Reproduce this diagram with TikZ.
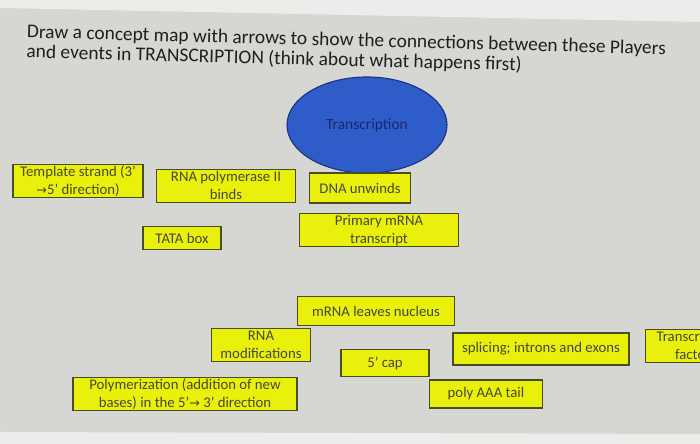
\documentclass[tikz,border=0pt]{standalone}
\usepackage{fontspec}
\setmainfont{Carlito}
\newfontfamily\arrowfont{DejaVu Sans}
\usepackage{tikz}
\usetikzlibrary{positioning, calc}
\usetikzlibrary{shapes}
\definecolor{screen}{RGB}{214,214,211}
\definecolor{screenhi}{RGB}{236,236,234}
\definecolor{boxfill}{RGB}{232,240,12}
\definecolor{boxedge}{RGB}{72,76,40}
\definecolor{boxtext}{RGB}{72,72,56}
\definecolor{ovalfill}{RGB}{46,92,200}
\definecolor{ovaledge}{RGB}{30,52,130}
\definecolor{ovaltext}{RGB}{26,40,112}
\newcommand{\rarr}{{\arrowfont\fontsize{9}{12}\selectfont →}}
\newcommand{\upst}{\rule{0pt}{8.5pt}}
\newcommand{\dnst}{\rule[-2.1pt]{0pt}{2.1pt}}

\begin{document}
\begin{tikzpicture}[x=0.025cm,y=-0.025cm]
	\def \px{0.025cm}
	\def \rowone{186}
	\def \rowtwo{234}
	%\def \rowthree{311}
	\tikzstyle{c-node}=[draw=boxedge,fill=boxfill,text=boxtext,rectangle,line width=0.8pt,font=\fontsize{10.5}{12.8}\selectfont,align=center,inner xsep=2pt,inner ysep=0pt]
	\tikzstyle{w-node}=[c-node,minimum height=33*\px]
	\tikzstyle{o-node}=[draw=ovaledge,fill=ovalfill,text=ovaltext,ellipse,line width=0.8pt,inner sep=0pt,font=\fontsize{11}{13}\selectfont]
	\tikzstyle{annot}=[text=black!88,align=left,anchor=north west,inner sep=0pt,font=\fontsize{13.8}{14.2}\selectfont]
	% screen
	\useasboundingbox (0,0) rectangle (700,444);
	\clip (0,0) rectangle (700,444);
	\fill[screen] (0,0) rectangle (700,444);
	\fill[screenhi] (0,0) -- (700,0) -- (700,22) -- (0,8) -- cycle;
	\fill[screenhi] (0,432) -- (700,434) -- (700,444) -- (0,444) -- cycle;
	% labels
	\node[annot,rotate=-1.5] (task) at (27,24) {Draw a concept map with arrows to show the connections between these Players\\and events in TRANSCRIPTION (think about what happens first)};
	% players
	\node[o-node,minimum width=160*\px,minimum height=96*\px] (transcr) at (367,125) {Transcription};
	\node[w-node,minimum width=130*\px] (template) at (78,181) {\upst Template strand (3’\\\rarr5’ direction)\dnst};
	\node[w-node,minimum width=139*\px] (rnapol) at (226,\rowone) {\upst RNA polymerase II\\binds\dnst};
	\node[c-node,minimum width=101*\px,minimum height=30*\px] (unwind) at (360,188) {DNA unwinds};
	\node[w-node,minimum width=159*\px] (primary) at (379,230) {\upst Primary mRNA\\transcript\dnst};
	\node[c-node,minimum width=78*\px,minimum height=23*\px] (tata) at (182,\rowtwo+4) {TATA box};
	% events
	\node[c-node,minimum width=157*\px,minimum height=29*\px] (leaves) at (376,311) {mRNA leaves nucleus};
	\node[w-node,minimum width=99*\px,minimum height=30*\px] (rnamod) at (261,345) {\upst RNA\\modifications\dnst};
	\node[c-node,minimum width=88*\px,minimum height=27*\px] (cap) at (385,363) {5’ cap};
	\node[c-node,minimum width=176*\px,minimum height=32*\px] (splice) at (541,349) {splicing; introns and exons};
	\node[w-node,minimum width=100*\px,minimum height=30*\px,anchor=west] (factors) at (645,346) {\upst Transcription\\factors\dnst};
	\node[c-node,minimum width=113*\px,minimum height=28*\px] (polya) at (486,394) {poly AAA tail};
	\node[w-node,minimum width=224*\px] (polymer) at (185,394) {\upst Polymerization (addition of new\\bases) in the 5’\rarr\ 3’ direction\dnst};
\end{tikzpicture}
\end{document}
